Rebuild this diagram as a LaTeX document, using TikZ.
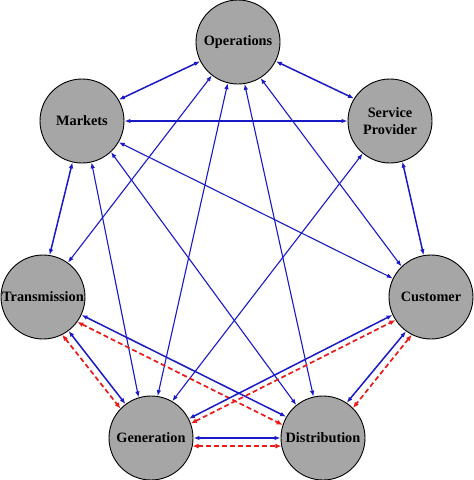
\documentclass[tikz,border=0pt]{standalone}
\usepackage{fontspec}
\setmainfont{Liberation Serif}
\usetikzlibrary{arrows.meta}
\definecolor{linkblue}{RGB}{25,25,200}
\definecolor{linkred}{RGB}{235,25,25}
\definecolor{nodegray}{RGB}{166,166,166}
\begin{document}
\begin{tikzpicture}[x=1pt,y=-1pt,
  unit/.style={circle,draw=black,line width=0.9pt,fill=nodegray,minimum size=84pt,inner sep=0pt,
    align=center,font=\bfseries\fontsize{14.3}{17}\selectfont},
  link/.style={linkblue,line width=1.5pt,{Latex[length=6pt,width=4.5pt]}-{Latex[length=6pt,width=4.5pt]}},
  thinlink/.style={link,line width=1.1pt},
  redlink/.style={linkred,line width=1.7pt,dash pattern=on 5pt off 3pt,{Latex[length=6pt,width=5pt]}-{Latex[length=6pt,width=5pt]}}]
\useasboundingbox (0,0) rectangle (474,480);
\node[unit] (ops) at (238,42) {Operations};
\node[unit] (mkt) at (82,121) {Markets};
\node[unit] (srv) at (390,121) {Service\\Provider};
\node[unit] (trn) at (43,297) {Transmission};
\node[unit] (cus) at (431,297) {Customer};
\node[unit] (gen) at (151,438) {Generation};
\node[unit] (dst) at (323,438) {Distribution};
% outer ring
\draw[link] (ops.207) -- (mkt.30);
\draw[link] (ops.333) -- (srv.148);
\draw[link] (mkt.0) -- (srv.180);
\draw[link] (mkt.257) -- (trn.81);
\draw[link] (srv.287) -- (cus.100);
% long links
\draw[thinlink] (ops.232) -- (trn.54);
\draw[thinlink] (mkt.283) -- (gen.107);
\draw[thinlink] (mkt.313) -- (dst.129);
\draw[thinlink] (mkt.330) -- (cus.154);
\draw[thinlink] (ops.256) -- (gen.81);
\draw[thinlink] (ops.279) -- (dst.103);
\draw[thinlink] (ops.302) -- (cus.134);
\draw[thinlink] (srv.230) -- (gen.60);
% power links
\draw[link] (trn.335) -- (dst.150);
\draw[redlink] (trn.324) -- (dst.162);
\draw[link] (trn.307) -- (gen.127);
\draw[redlink] (trn.297) -- (gen.136);
\draw[link] (gen.27) -- (cus.205);
\draw[redlink] (gen.20) -- (cus.213);
\draw[link] (cus.234) -- (dst.56);
\draw[redlink] (cus.243) -- (dst.45);
\draw[link] (gen.0) -- (dst.180);
\draw[redlink] (gen.349) -- (dst.191);
\end{tikzpicture}
\end{document}
